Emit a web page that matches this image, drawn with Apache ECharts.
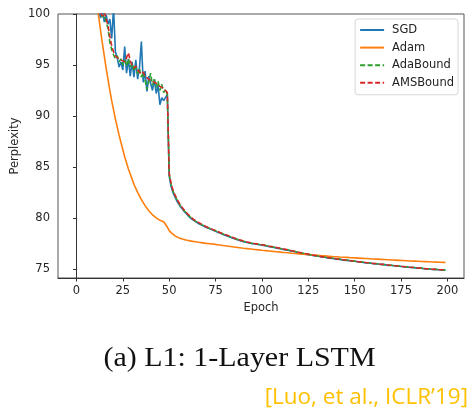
<!DOCTYPE html>
<html>
<head>
<meta charset="utf-8">
<script src="https://cdn.jsdelivr.net/npm/echarts@6/dist/echarts.min.js"></script>
<style>
  html, body { margin: 0; padding: 0; background: #fff; }
  #chart { width: 474px; height: 418px; }
</style>
</head>
<body>
<div id="chart"></div>
<script>
var EPOCHS = [0,1,2,3,4,5,6,7,8,9,10,11,12,13,14,15,16,17,18,19,20,21,22,23,24,25,26,27,28,29,30,
  31,32,33,34,35,36,37,38,39,40,41,42,43,44,45,46,47,48,49,50,51,52,53,54,55,56,57,58,59,60,
  62,64,66,68,70,72,74,76,78,80,82,84,86,88,90,92,94,96,98,100,102,104,106,108,110,112,114,116,118,120,
  122,124,126,128,130,132,134,136,138,140,142,144,146,148,150,152,154,156,158,160,162,164,166,168,170,
  172,174,176,178,180,182,184,186,188,190,192,194,196,198,199];

var SGD = [190,160,140,127,118,112,108,105.5,104,102.8,101.8,101.0,100.3,
  99.6,100.4,99.2,99.9,99.0,99.5,97.6,100.6,96.3,95.7,94.8,95.3,94.5,96.8,94.2,95.6,93.9,95.3,
  93.8,95.5,93.6,94.8,97.3,93.3,94.4,92.4,93.9,94.0,92.5,93.6,92.2,93.0,91.1,91.8,91.5,91.8,92.1,84.1,
  83.1,82.5,82.1,81.7,81.4,81.1,80.9,80.65,80.45,80.25,
  79.9,79.65,79.42,79.25,79.05,78.92,78.75,78.6,78.46,78.3,78.18,78.02,77.9,77.78,77.66,77.58,77.5,77.43,77.38,77.32,
  77.26,77.17,77.12,77.03,76.97,76.88,76.83,76.73,76.67,76.57,76.51,76.42,76.37,76.28,76.25,76.16,76.13,76.05,76.03,75.95,
  75.93,75.85,75.83,75.76,75.74,75.67,75.66,75.58,75.57,75.5,75.49,75.42,75.41,75.34,75.33,75.27,75.26,75.2,75.19,75.13,
  75.12,75.06,75.05,74.99,74.98,74.93,74.94,74.88,74.9,74.86];

var ADAM = [185,155,138,128,121,116,112,108.8,106.3,104.3,102.6,101.1,
  99.7,98.4,97.1,95.9,94.7,93.6,92.5,91.5,90.6,89.7,88.9,88.1,87.4,86.7,86.0,85.4,84.8,84.3,83.8,
  83.3,82.9,82.5,82.15,81.8,81.5,81.2,80.95,80.7,80.5,80.3,80.15,80.0,79.88,79.76,79.68,79.62,79.5,79.1,78.75,
  78.55,78.38,78.25,78.15,78.06,77.99,77.93,77.88,77.83,77.79,
  77.72,77.66,77.6,77.55,77.5,77.46,77.42,77.37,77.32,77.27,77.22,77.17,77.12,77.07,77.02,76.98,76.94,76.9,76.86,76.82,
  76.79,76.75,76.71,76.68,76.64,76.6,76.57,76.53,76.5,76.47,76.44,76.41,76.38,76.35,76.32,76.29,76.27,76.24,76.21,76.19,
  76.16,76.14,76.12,76.09,76.07,76.05,76.03,76.01,75.99,75.97,75.95,75.93,75.91,75.89,75.87,75.85,75.83,75.81,75.79,75.77,
  75.76,75.74,75.72,75.71,75.69,75.67,75.66,75.64,75.63,75.62];

var ADABOUND = [188,158,139,126,117,111,107,104.8,103.4,102.3,101.4,100.8,100.5,
  100.3,99.7,99.9,99.2,98.6,97.2,96.5,96.0,95.6,95.9,95.3,95.6,95.0,95.5,94.9,95.6,94.8,95.2,
  94.4,94.8,94.1,94.6,93.8,94.3,93.5,92.6,93.4,94.2,93.0,93.6,92.8,93.4,92.5,93.1,92.3,92.6,92.1,84.3,
  83.3,82.65,82.2,81.85,81.5,81.2,80.97,80.72,80.52,80.33,
  79.96,79.7,79.49,79.29,79.11,78.95,78.8,78.64,78.5,78.34,78.22,78.06,77.95,77.8,77.71,77.6,77.54,77.45,77.41,77.33,
  77.29,77.19,77.15,77.05,77.0,76.9,76.86,76.75,76.7,76.6,76.53,76.45,76.39,76.31,76.26,76.19,76.14,76.08,76.04,75.97,
  75.95,75.87,75.85,75.78,75.76,75.69,75.68,75.6,75.59,75.52,75.5,75.44,75.43,75.36,75.35,75.29,75.27,75.22,75.2,75.15,
  75.13,75.08,75.07,75.01,75.0,74.95,74.95,74.9,74.91,74.87];

var AMSBOUND = [186,157,139,127,118,112,107.5,105,103.6,102.5,101.6,100.9,100.6,
  100.1,99.8,100.2,99.5,98.9,97.8,96.9,96.3,95.9,95.7,95.8,95.5,95.6,95.3,95.7,96.2,95.4,95.0,
  94.7,94.9,94.5,94.4,94.1,94.3,93.9,94.0,93.6,93.7,93.4,93.5,93.2,93.3,92.9,93.0,92.7,92.6,92.3,84.4,
  83.4,82.75,82.3,81.92,81.58,81.28,81.03,80.78,80.58,80.38,
  80.02,79.74,79.53,79.32,79.13,78.98,78.82,78.67,78.52,78.37,78.24,78.09,77.96,77.84,77.72,77.63,77.55,77.48,77.42,77.36,
  77.3,77.22,77.16,77.08,77.01,76.93,76.87,76.78,76.71,76.62,76.55,76.47,76.4,76.33,76.27,76.2,76.15,76.09,76.05,75.99,
  75.95,75.89,75.85,75.8,75.76,75.7,75.68,75.62,75.59,75.53,75.51,75.45,75.43,75.37,75.35,75.3,75.28,75.23,75.2,75.16,
  75.13,75.09,75.07,75.02,75.0,74.96,74.95,74.91,74.91,74.88];

var X_TICKS = [0, 25, 50, 75, 100, 125, 150, 175, 200];
var Y_TICKS = [75, 80, 85, 90, 95, 100];

function pairs(values) {
  return EPOCHS.map(function (e, i) { return [e, values[i]]; });
}

var chart = echarts.init(document.getElementById('chart'), null, { renderer: 'canvas' });

var axisText = { color: '#262626', fontSize: 11.5, fontFamily: 'DejaVu Sans' };

var option = {
  animation: false,
  backgroundColor: '#fff',
  // caption under the plot (the source picture is slightly stretched sideways)
  graphic: [
    {
      type: 'text',
      x: 239.5,
      y: 359,
      scaleX: 1.11,
      style: {
        text: '(a) L1: 1-Layer LSTM',
        x: 0, y: 0,
        align: 'center',
        verticalAlign: 'middle',
        font: '27px "Liberation Serif"',
        fill: '#111'
      }
    },
    {
      type: 'text',
      x: 468,
      y: 398,
      style: {
        text: '[Luo, et al., ICLR\u201919]',
        x: 0, y: 0,
        align: 'right',
        verticalAlign: 'middle',
        font: '22.5px "Open Sans"',
        fill: '#FFC000'
      }
    }
  ],
  grid: {
    left: 58, right: 10, top: 14, bottom: 140,
    outerBoundsMode: 'none',
    show: true, borderColor: '#555', borderWidth: 1
  },
  legend: {
    orient: 'vertical',
    right: 16,
    top: 19,
    itemWidth: 24,
    itemHeight: 10,
    itemGap: 3.6,
    padding: [4, 4, 5, 4],
    backgroundColor: '#fff',
    borderColor: '#d6d6d6',
    borderWidth: 1,
    borderRadius: 3,
    itemStyle: { opacity: 0 },
    textStyle: { color: '#222', fontSize: 11.5, fontFamily: 'DejaVu Sans', lineHeight: 14, padding: [0, 0, 0, 3] },
    data: ['SGD', 'Adam', 'AdaBound', 'AMSBound']
  },
  xAxis: {
    type: 'value',
    min: -9.95,
    max: 208.95,
    name: 'Epoch',
    nameLocation: 'middle',
    nameGap: 23,
    nameTextStyle: axisText,
    axisLine: { show: true, lineStyle: { color: '#333', width: 1 } },
    axisTick: { show: true, length: 3.5, lineStyle: { color: '#333' }, customValues: X_TICKS },
    axisLabel: Object.assign({ margin: 7.5, customValues: X_TICKS }, axisText),
    splitLine: { show: false }
  },
  yAxis: {
    type: 'value',
    min: 74.1,
    max: 100,
    name: 'Perplexity',
    nameLocation: 'middle',
    nameGap: 37,
    nameMoveOverlap: false,
    nameTextStyle: axisText,
    axisLine: { show: true, lineStyle: { color: '#333', width: 1 } },
    axisTick: { show: true, length: 3.5, lineStyle: { color: '#333' }, customValues: Y_TICKS },
    axisLabel: Object.assign({ margin: 8, customValues: Y_TICKS }, axisText),
    splitLine: { show: false }
  },
  series: [
    {
      name: 'SGD', type: 'line', symbol: 'none', clip: true,
      data: pairs(SGD),
      lineStyle: { color: '#1f77b4', width: 1.6 },
      itemStyle: { color: '#1f77b4' }
    },
    {
      name: 'Adam', type: 'line', symbol: 'none', clip: true,
      data: pairs(ADAM),
      lineStyle: { color: '#ff7f0e', width: 1.6 },
      itemStyle: { color: '#ff7f0e' }
    },
    {
      name: 'AdaBound', type: 'line', symbol: 'none', clip: true,
      data: pairs(ADABOUND),
      lineStyle: { color: '#2ca02c', width: 1.6, type: [5, 2.5] },
      itemStyle: { color: '#2ca02c' }
    },
    {
      name: 'AMSBound', type: 'line', symbol: 'none', clip: true,
      data: pairs(AMSBOUND),
      lineStyle: { color: '#d62728', width: 1.6, type: [5, 2.5] },
      itemStyle: { color: '#d62728' }
    }
  ]
};

chart.setOption(option);
</script>
</body>
</html>
